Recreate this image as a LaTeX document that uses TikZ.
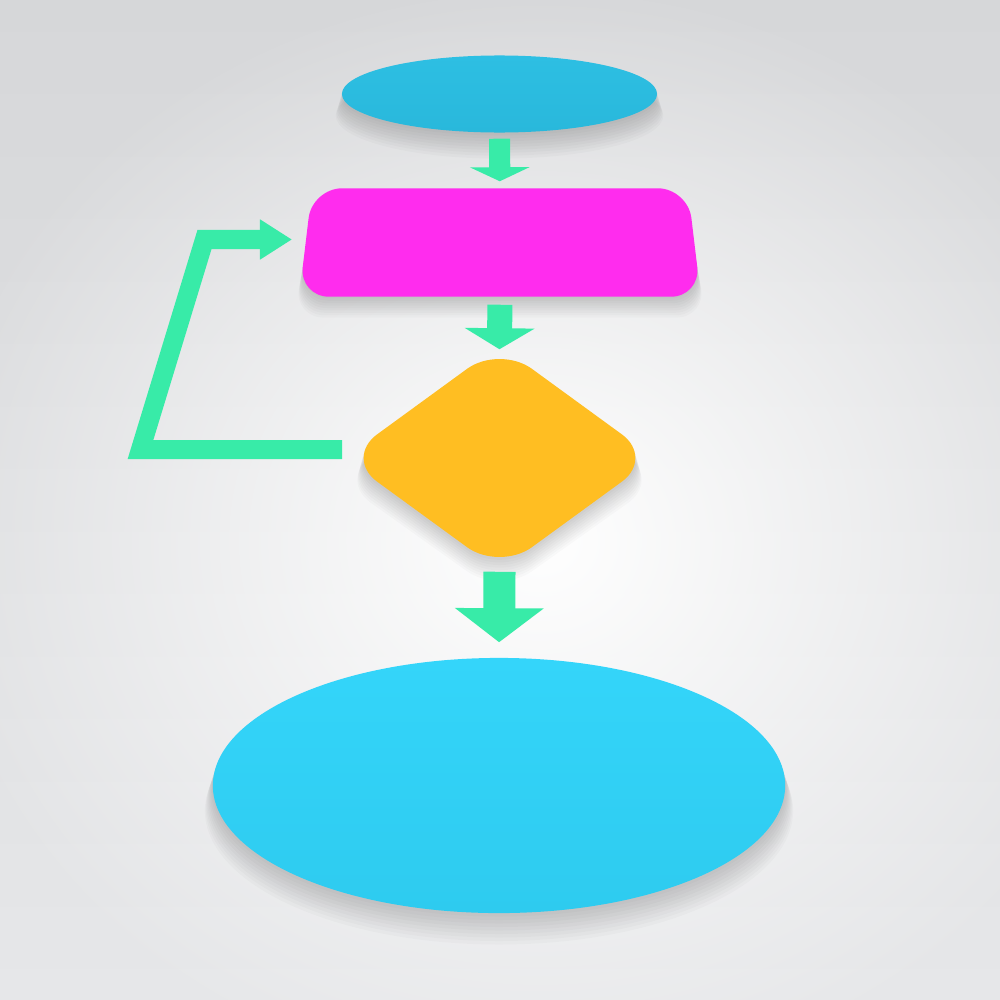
\documentclass[tikz,border=0pt]{standalone}
\usetikzlibrary{shapes.geometric, arrows.meta, fadings}
\definecolor{bgtop}{HTML}{D6D7D9}
\definecolor{bgmid}{HTML}{F5F6F7}
\definecolor{bgbot}{HTML}{E6E7E9}
\definecolor{cyanAt}{HTML}{2DBFE3}
\definecolor{cyanAb}{HTML}{29B8DB}
\definecolor{cyanBt}{HTML}{34D5FA}
\definecolor{cyanBb}{HTML}{2ECBEF}
\definecolor{magentaC}{HTML}{FF2CEE}
\definecolor{orangeC}{HTML}{FFBE22}
\definecolor{greenC}{HTML}{38EBA8}
\tikzfading[name=glowfade, inner color=transparent!0, outer color=transparent!100]
\begin{document}
\begin{tikzpicture}[x=0.01cm, y=-0.01cm,
  term/.style={ellipse, inner sep=0pt},
  flow/.style={draw=greenC, line join=miter},
  shad/.style={fill=black, opacity=0.018}
]
\useasboundingbox (0,0) rectangle (1000,1000);
% background
\shade[top color=bgtop, middle color=bgmid, bottom color=bgbot] (0,0) rectangle (1000,1000);
\fill[white, path fading=glowfade] (540,540) ellipse [x radius=620, y radius=560];

% soft shadows
\foreach \k in {1,...,9}{
  \fill[shad] (499.5,{94+2.4*\k}) ellipse [x radius={157.5+0.7*\k}, y radius={38.5+0.5*\k}];
  \fill[shad, rounded corners=0.3cm] (313,{189+2.4*\k}) -- (687,{189+2.4*\k})
     -- ({700+0.7*\k},{296+2.4*\k}) -- ({300-0.7*\k},{296+2.4*\k}) -- cycle;
  \fill[shad, rounded corners=0.4cm] ({344.5-0.7*\k},{458+2.4*\k}) -- (499.5,{345+2.4*\k})
     -- ({654.5+0.7*\k},{458+2.4*\k}) -- (499.5,{571+2.6*\k}) -- cycle;
  \fill[shad] (499,{785.5+2.8*\k}) ellipse [x radius={286+0.9*\k}, y radius={127.5+0.7*\k}];
}

\node[term, top color=cyanAt, bottom color=cyanAb, minimum width=3.15cm, minimum height=0.77cm] (start) at (499.5,94) {};
% process box (trapezoid): anchor node plus its rounded outline
\node[rectangle, inner sep=0pt, minimum width=4.0cm, minimum height=1.07cm] (proc) at (500,242.5) {};
\fill[magentaC, rounded corners=0.3cm]
  ([xshift=0.13cm]proc.north west) -- ([xshift=-0.13cm]proc.north east)
  -- (proc.south east) -- (proc.south west) -- cycle;
\node[diamond, aspect=1.37, minimum width=3.1cm, minimum height=2.26cm, inner sep=0pt,
      fill=orangeC, rounded corners=0.4cm] (dec) at (499.5,458) {};
\node[term, top color=cyanBt, bottom color=cyanBb, minimum width=5.72cm, minimum height=2.55cm] (end) at (499,785.5) {};

\draw[flow, line width=0.21cm, -{Triangle[width=0.59cm,length=0.14cm]},
      shorten <=0.055cm, shorten >=0.07cm] (start) -- (proc);
\draw[flow, line width=0.25cm, -{Triangle[width=0.69cm,length=0.21cm]},
      shorten <=0.08cm, shorten >=-0.05cm] (proc.south) -- (dec.north);
\draw[flow, line width=0.32cm, -{Triangle[width=0.87cm,length=0.34cm]},
      shorten <=0cm, shorten >=0.15cm] (dec.south) -- (end.north);

\coordinate (fbS) at (342,449.5);
\coordinate (fbA) at (140.5,449.5);
\coordinate (fbB) at (204.5,239.5);
\coordinate (fbE) at (292,239.5);
\draw[flow, line width=0.19cm, -{Triangle[width=0.38cm,length=0.32cm]}]
  (fbS) -- (fbA) -- (fbB) -- (fbE);
\end{tikzpicture}
\end{document}
